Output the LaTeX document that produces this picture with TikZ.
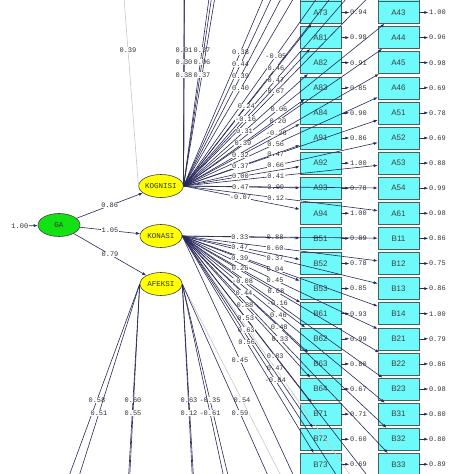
\documentclass[tikz,border=0pt]{standalone}
\usepackage{fontspec}
\usetikzlibrary{arrows.meta,calc,shapes.geometric}
\newfontfamily\monofnt{Liberation Mono}
\newfontfamily\boxfnt{Liberation Sans}
\definecolor{pathcol}{RGB}{40,40,90}
\definecolor{boxfill}{RGB}{110,250,250}
\definecolor{boxline}{RGB}{70,95,95}
\definecolor{latyel}{RGB}{255,255,0}
\definecolor{latgrn}{RGB}{20,225,20}
\tikzset{every picture/.style={line width=0.6pt},
  obsbox/.style={draw=boxline,fill=boxfill,minimum width=41pt,minimum height=22pt,inner sep=0pt,font=\boxfnt\fontsize{8}{8}\selectfont,text=black!75},
  latent/.style={ellipse,draw=black!75,fill=latyel,minimum width=42pt,minimum height=23pt,inner sep=0pt,font=\monofnt\fontsize{7.5}{7.5}\selectfont,text=black!80},
  coef/.style={fill=white,inner sep=0.4pt,font=\monofnt\fontsize{7}{7}\selectfont,text=black!80},
  errlbl/.style={anchor=west,inner sep=0.4pt,font=\monofnt\fontsize{7}{7}\selectfont,text=black!80},
  load/.style={draw=pathcol,-{Latex[length=4pt,width=3pt]}},
  faded/.style={draw=black!22,-{Latex[length=4pt,width=3pt]}}}

\begin{document}
\begin{tikzpicture}[x=1pt,y=1pt,yscale=-1]
\useasboundingbox (0,0) rectangle (474,474);
\clip (0,0) rectangle (474,474);

%Shape: Rectangle (boxes cut by the top edge)
\draw [draw=boxline,fill=boxfill] (300,-23) rectangle (341,0.8) ;
\draw [draw=boxline,fill=boxfill] (378,-23) rectangle (419,0.8) ;

% observed variables, first column
\foreach \nm [count=\k from 0] in {A73,A81,A82,A83,A84,A91,A92,A93,A94,B51,B52,B53,B61,B62,B63,B64,B71,B72,B73}
  \node [obsbox] (\nm) at (320.5,{12.5+25.1*\k}) {\nm};
% observed variables, second column
\foreach \nm [count=\k from 0] in {A43,A44,A45,A46,A51,A52,A53,A54,A61,B11,B12,B13,B14,B21,B22,B23,B31,B32,B33}
  \node [obsbox] (\nm) at (398.5,{12.5+25.1*\k}) {\nm};

% latent variables
\node [latent,fill=latgrn] (ga) at (59,225) {GA};
\node [latent] (kog) at (161,186) {KOGNISI};
\node [latent] (kon) at (161,236) {KONASI};
\node [latent] (afe) at (161,284) {AFEKSI};

% end points outside the picture
\foreach \t in {1,...,4} {
  \coordinate (ua\t) at (300,{12.5-25.1*\t});
  \coordinate (ub\t) at (378,{12.5-25.1*\t});
}
\coordinate (da1) at (300,{12.5+25.1*19});
\foreach \t in {1,2,3} \coordinate (db\t) at (378,{12.5+25.1*(18+\t)});
\coordinate (up1) at ($(kog.east)!3!(184,50)$);
\coordinate (up2) at ($(kog.east)!3!(184,62)$);
\coordinate (up3) at ($(kog.east)!3!(184,75)$);
\coordinate (up4) at ($(kog.east)!3!(202,50)$);
\coordinate (up5) at ($(kog.east)!3!(202,62)$);
\coordinate (up6) at ($(kog.east)!3!(202,75)$);
\coordinate (upg) at ($(kog.west)!3!(128,50)$);
\coordinate (dn1) at ($(afe.west)!2!(97,400)$);
\coordinate (dn2) at ($(afe.west)!2!(99,413)$);
\coordinate (dn3) at ($(afe.west)!2!(133,400)$);
\coordinate (dn4) at ($(afe.west)!2!(133,413)$);
\coordinate (dn5) at ($(afe.east)!2!(210,400)$);
\coordinate (dn6) at ($(afe.east)!2!(210,413)$);
\coordinate (dn7) at ($(afe.east)!2!(189,400)$);
\coordinate (dn8) at ($(afe.east)!2!(189,413)$);
\coordinate (dn9) at ($(afe.east)!2!(242,400)$);
\coordinate (dn10) at ($(afe.east)!2!(240,413)$);

% GA paths
\node [coef,anchor=east] (gaerr) at (29,226) {1.00};
\draw [load] (gaerr) -- (ga);
\draw [load] (ga) -- (kog) node [coef,pos=0.5] {0.86};
\draw [load] (ga) -- (kon) node [coef,pos=0.5] {1.05};
\draw [load] (ga) -- (afe) node [coef,pos=0.5] {0.79};

% KOGNISI loadings
\draw [faded] (kog.west) -- (upg) node [coef,pos=1/3] {0.39};
\foreach \t/\c in {up4/0.37,up5/0.06,up6/0.37,up1/0.01,up2/0.30,up3/0.38}
  \draw [load] (kog.east) -- (\t) node [coef,pos=1/3] {\c};
\foreach \t/\c in {ub4/-0.05,ub3/0.46,ub2/0.47,ub1/0.67,A43/0.06,A44/0.20,A45/-0.26,A46/0.56,A51/0.47,A52/0.66,A53/0.41,A54/0.00,A61/0.12}
  \draw [load] (kog.east) -- (\t) node [coef,pos=0.475] {\c};
\foreach \t/\c in {ua4/0.38,ua3/0.44,ua2/0.39,ua1/0.40,A73/0.24,A81/-0.16,A82/0.31,A83/0.39,A84/0.32,A91/0.37,A92/0.00,A93/0.47,A94/-0.07}
  \draw [load] (kog.east) -- (\t) node [coef,pos=0.49] {\c};

% KONASI loadings
\draw [faded] (kon.east) -- (db2) node [coef,pos=0.475] {0.47};
\foreach \t/\c in {B11/0.88,B12/0.60,B13/0.37,B14/0.04,B21/0.45,B22/0.68,B23/-0.16,B31/0.46,B32/0.48,B33/0.33,db1/0.83,db3/-0.84}
  \draw [load] (kon.east) -- (\t) node [coef,pos=0.475] {\c};
\foreach \t/\c in {B51/0.33,B52/0.47,B53/0.39,B61/0.26,B62/-0.08,B63/0.44,B64/0.88,B71/0.53,B72/0.63,B73/0.56,da1/0.45}
  \draw [load] (kon.east) -- (\t) node [coef,pos=0.49] {\c};

% AFEKSI loadings
\foreach \t/\c in {dn1/0.58,dn2/0.51,dn3/0.60,dn4/0.55}
  \draw [load] (afe.west) -- (\t) node [coef,pos=0.5] {\c};
\draw [faded] (afe.east) -- (dn9) node [coef,pos=0.5] {0.54};
\foreach \t/\c in {dn10/0.59,dn5/-0.35,dn6/-0.61,dn7/0.63,dn8/0.12}
  \draw [load] (afe.east) -- (\t) node [coef,pos=0.5] {\c};

% error variances
\foreach \nm/\ev in {A73/0.94,A81/0.98,A82/0.91,A83/0.85,A84/0.90,A91/0.86,A92/1.00,A93/0.78,A94/1.00,B51/0.89,B52/0.78,B53/0.85,B61/0.93,B62/0.99,B63/0.80,B64/0.67,B71/0.71,B72/0.60,B73/0.69} {
  \node [errlbl] (e\nm) at ([xshift=8pt]\nm.east) {\ev};
  \draw [load] (\nm.east) -- (e\nm.west);
}
\foreach \nm/\ev in {A43/1.00,A44/0.96,A45/0.98,A46/0.69,A51/0.78,A52/0.69,A53/0.88,A54/0.99,A61/0.98,B11/0.86,B12/0.75,B13/0.86,B14/1.00,B21/0.79,B22/0.86,B23/0.98,B31/0.80,B32/0.80,B33/0.89} {
  \node [errlbl] (e\nm) at ([xshift=9pt]\nm.east) {\ev};
  \draw [load] (\nm.east) -- (e\nm.west);
}

\end{tikzpicture}
\end{document}
